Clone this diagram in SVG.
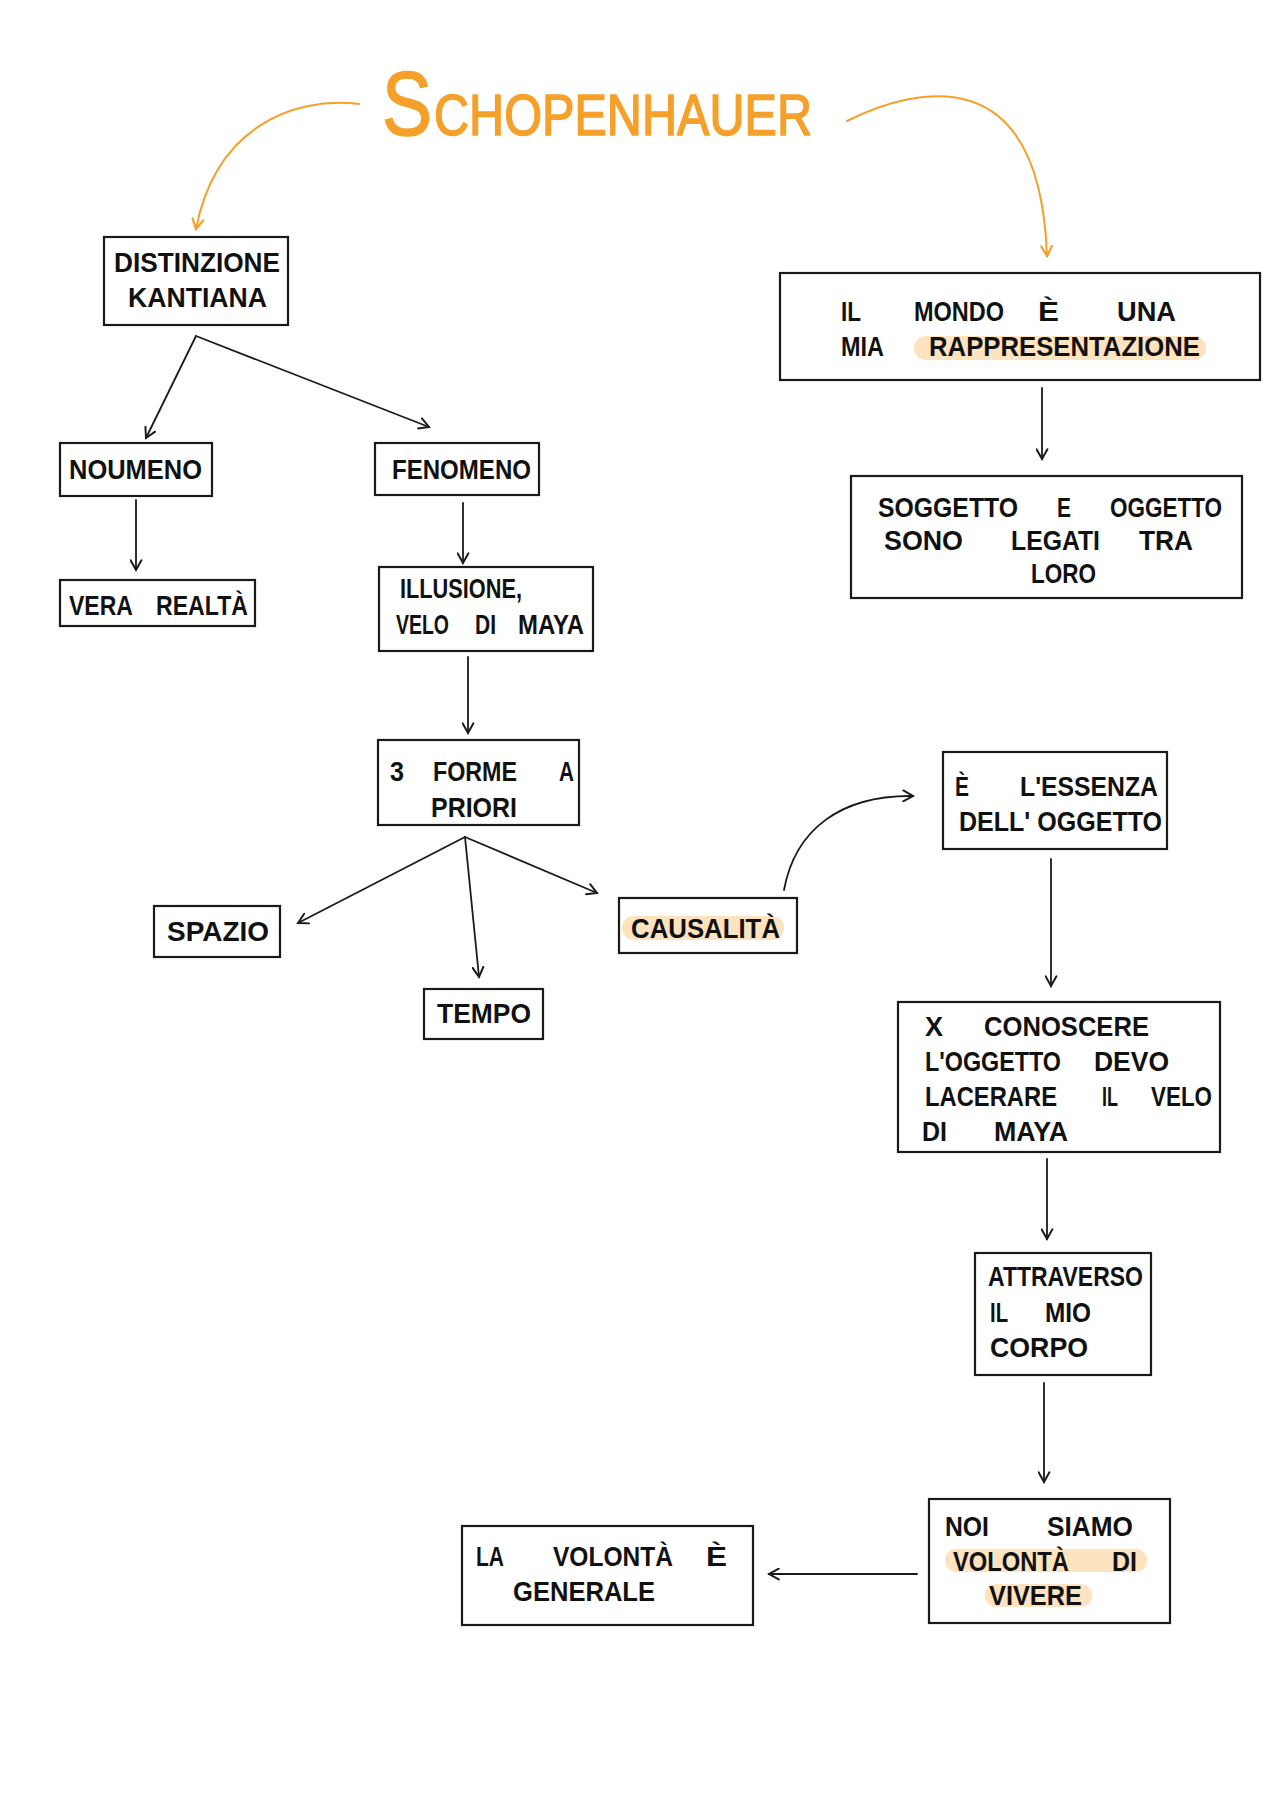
<svg xmlns="http://www.w3.org/2000/svg" width="1280" height="1808" viewBox="0 0 1280 1808">
<style>
.box{fill:#fff;stroke:#1a1a1a;stroke-width:2.2}
.t{font-family:"Liberation Sans Narrow","Liberation Sans",Arial,sans-serif;font-weight:bold;font-size:28px;fill:#111}
.hl{fill:#FDE3C0}
.c{fill:none;stroke:#1a1a1a;stroke-width:1.8;stroke-linecap:round}
.o{fill:none;stroke:#F5A02A;stroke-width:2;stroke-linecap:round}
.title{font-family:"Liberation Sans",Arial,sans-serif;fill:#F5A02A;stroke:#F5A02A;stroke-width:1.6;stroke-linejoin:round}
</style>
<defs>
<marker id="ah" viewBox="0 0 12 12" refX="10" refY="6" markerWidth="13" markerHeight="13" markerUnits="userSpaceOnUse" orient="auto">
<path d="M1,1 L10,6 L1,11" fill="none" stroke="#1a1a1a" stroke-width="1.8" stroke-linecap="round"/>
</marker>
<marker id="aho" viewBox="0 0 12 12" refX="10" refY="6" markerWidth="13" markerHeight="13" markerUnits="userSpaceOnUse" orient="auto">
<path d="M1,1 L10,6 L1,11" fill="none" stroke="#F5A02A" stroke-width="2" stroke-linecap="round"/>
</marker>
</defs>
<rect width="1280" height="1808" fill="#fff"/>

<g id="title">
<text class="title" x="382" y="135" font-size="90" textLength="50" lengthAdjust="spacingAndGlyphs">S</text>
<text class="title" x="434" y="135" font-size="58" textLength="378" lengthAdjust="spacingAndGlyphs">CHOPENHAUER</text>
</g>

<g id="connectors">
<path class="o" d="M359 104 C290 96 215 130 196 229" marker-end="url(#aho)"/>
<path class="o" d="M847 121 C920 85 1040 60 1047 256" marker-end="url(#aho)"/>
<path class="c" d="M196 336 L146 438" marker-end="url(#ah)"/>
<path class="c" d="M196 336 L429 427" marker-end="url(#ah)"/>
<path class="c" d="M136 500 L136 570" marker-end="url(#ah)"/>
<path class="c" d="M463 503 L463 563" marker-end="url(#ah)"/>
<path class="c" d="M468 657 L468 733" marker-end="url(#ah)"/>
<path class="c" d="M465 837 L298 923" marker-end="url(#ah)"/>
<path class="c" d="M465 837 L479 977" marker-end="url(#ah)"/>
<path class="c" d="M465 837 L597 893" marker-end="url(#ah)"/>
<path class="c" d="M784 890 C795 830 840 795 913 796" marker-end="url(#ah)"/>
<path class="c" d="M1042 388 L1042 459" marker-end="url(#ah)"/>
<path class="c" d="M1051 859 L1051 986" marker-end="url(#ah)"/>
<path class="c" d="M1047 1159 L1047 1239" marker-end="url(#ah)"/>
<path class="c" d="M1044 1383 L1044 1482" marker-end="url(#ah)"/>
<path class="c" d="M917 1574 L769 1574" stroke-width="2.4" marker-end="url(#ah)"/>
</g>

<g id="distinzione">
<rect class="box" x="104" y="237" width="184" height="88"/>
<text class="t" x="114" y="272" textLength="166" lengthAdjust="spacingAndGlyphs">DISTINZIONE</text>
<text class="t" x="128" y="307" textLength="139" lengthAdjust="spacingAndGlyphs">KANTIANA</text>
</g>

<g id="noumeno">
<rect class="box" x="60" y="443" width="152" height="53"/>
<text class="t" x="69" y="479" textLength="133" lengthAdjust="spacingAndGlyphs">NOUMENO</text>
</g>

<g id="fenomeno">
<rect class="box" x="375" y="443" width="164" height="52"/>
<text class="t" x="392" y="479" textLength="139" lengthAdjust="spacingAndGlyphs">FENOMENO</text>
</g>

<g id="vera">
<rect class="box" x="60" y="580" width="195" height="46"/>
<text class="t" x="69" y="615" textLength="64" lengthAdjust="spacingAndGlyphs">VERA</text>
<text class="t" x="156" y="615" textLength="92" lengthAdjust="spacingAndGlyphs">REALTÀ</text>
</g>

<g id="illusione">
<rect class="box" x="379" y="567" width="214" height="84"/>
<text class="t" x="400" y="598" textLength="122" lengthAdjust="spacingAndGlyphs">ILLUSIONE,</text>
<text class="t" x="396" y="634" textLength="53" lengthAdjust="spacingAndGlyphs">VELO</text>
<text class="t" x="475" y="634" textLength="21" lengthAdjust="spacingAndGlyphs">DI</text>
<text class="t" x="518" y="634" textLength="66" lengthAdjust="spacingAndGlyphs">MAYA</text>
</g>

<g id="forme">
<rect class="box" x="378" y="740" width="201" height="85"/>
<text class="t" x="390" y="781" textLength="14" lengthAdjust="spacingAndGlyphs">3</text>
<text class="t" x="433" y="781" textLength="84" lengthAdjust="spacingAndGlyphs">FORME</text>
<text class="t" x="559" y="781" textLength="15" lengthAdjust="spacingAndGlyphs">A</text>
<text class="t" x="431" y="817" textLength="86" lengthAdjust="spacingAndGlyphs">PRIORI</text>
</g>

<g id="spazio">
<rect class="box" x="154" y="906" width="126" height="51"/>
<text class="t" x="167" y="941" textLength="102" lengthAdjust="spacingAndGlyphs">SPAZIO</text>
</g>

<g id="tempo">
<rect class="box" x="424" y="989" width="119" height="50"/>
<text class="t" x="437" y="1023" textLength="94" lengthAdjust="spacingAndGlyphs">TEMPO</text>
</g>

<g id="causalita">
<rect class="box" x="619" y="898" width="178" height="55"/>
<rect class="hl" x="622" y="916" width="162" height="24" rx="12"/>
<text class="t" x="631" y="938" textLength="149" lengthAdjust="spacingAndGlyphs">CAUSALITÀ</text>
</g>

<g id="mondo">
<rect class="box" x="780" y="273" width="480" height="107"/>
<text class="t" x="841" y="321" textLength="20" lengthAdjust="spacingAndGlyphs">IL</text>
<text class="t" x="914" y="321" textLength="90" lengthAdjust="spacingAndGlyphs">MONDO</text>
<text class="t" x="1038" y="321" textLength="21" lengthAdjust="spacingAndGlyphs">È</text>
<text class="t" x="1117" y="321" textLength="59" lengthAdjust="spacingAndGlyphs">UNA</text>
<rect class="hl" x="914" y="336" width="292" height="24" rx="12"/>
<text class="t" x="841" y="356" textLength="43" lengthAdjust="spacingAndGlyphs">MIA</text>
<text class="t" x="929" y="356" textLength="271" lengthAdjust="spacingAndGlyphs">RAPPRESENTAZIONE</text>
</g>

<g id="soggetto">
<rect class="box" x="851" y="476" width="391" height="122"/>
<text class="t" x="878" y="517" textLength="140" lengthAdjust="spacingAndGlyphs">SOGGETTO</text>
<text class="t" x="1057" y="517" textLength="14" lengthAdjust="spacingAndGlyphs">E</text>
<text class="t" x="1110" y="517" textLength="112" lengthAdjust="spacingAndGlyphs">OGGETTO</text>
<text class="t" x="884" y="550" textLength="79" lengthAdjust="spacingAndGlyphs">SONO</text>
<text class="t" x="1011" y="550" textLength="89" lengthAdjust="spacingAndGlyphs">LEGATI</text>
<text class="t" x="1139" y="550" textLength="54" lengthAdjust="spacingAndGlyphs">TRA</text>
<text class="t" x="1031" y="583" textLength="65" lengthAdjust="spacingAndGlyphs">LORO</text>
</g>

<g id="essenza">
<rect class="box" x="943" y="752" width="224" height="97"/>
<text class="t" x="955" y="796" textLength="14" lengthAdjust="spacingAndGlyphs">È</text>
<text class="t" x="1020" y="796" textLength="138" lengthAdjust="spacingAndGlyphs">L'ESSENZA</text>
<text class="t" x="959" y="831" textLength="203" lengthAdjust="spacingAndGlyphs">DELL' OGGETTO</text>
</g>

<g id="conoscere">
<rect class="box" x="898" y="1002" width="322" height="150"/>
<text class="t" x="925" y="1036" textLength="18" lengthAdjust="spacingAndGlyphs">X</text>
<text class="t" x="984" y="1036" textLength="165" lengthAdjust="spacingAndGlyphs">CONOSCERE</text>
<text class="t" x="925" y="1071" textLength="136" lengthAdjust="spacingAndGlyphs">L'OGGETTO</text>
<text class="t" x="1094" y="1071" textLength="75" lengthAdjust="spacingAndGlyphs">DEVO</text>
<text class="t" x="925" y="1106" textLength="132" lengthAdjust="spacingAndGlyphs">LACERARE</text>
<text class="t" x="1102" y="1106" textLength="16" lengthAdjust="spacingAndGlyphs">IL</text>
<text class="t" x="1151" y="1106" textLength="61" lengthAdjust="spacingAndGlyphs">VELO</text>
<text class="t" x="922" y="1141" textLength="25" lengthAdjust="spacingAndGlyphs">DI</text>
<text class="t" x="994" y="1141" textLength="74" lengthAdjust="spacingAndGlyphs">MAYA</text>
</g>

<g id="attraverso">
<rect class="box" x="975" y="1253" width="176" height="122"/>
<text class="t" x="988" y="1286" textLength="155" lengthAdjust="spacingAndGlyphs">ATTRAVERSO</text>
<text class="t" x="990" y="1322" textLength="18" lengthAdjust="spacingAndGlyphs">IL</text>
<text class="t" x="1045" y="1322" textLength="46" lengthAdjust="spacingAndGlyphs">MIO</text>
<text class="t" x="990" y="1357" textLength="98" lengthAdjust="spacingAndGlyphs">CORPO</text>
</g>

<g id="noi">
<rect class="box" x="929" y="1499" width="241" height="124"/>
<rect class="hl" x="945" y="1549" width="202" height="23" rx="11"/>
<rect class="hl" x="985" y="1584" width="107" height="23" rx="11"/>
<text class="t" x="945" y="1536" textLength="44" lengthAdjust="spacingAndGlyphs">NOI</text>
<text class="t" x="1047" y="1536" textLength="86" lengthAdjust="spacingAndGlyphs">SIAMO</text>
<text class="t" x="953" y="1571" textLength="116" lengthAdjust="spacingAndGlyphs">VOLONTÀ</text>
<text class="t" x="1112" y="1571" textLength="25" lengthAdjust="spacingAndGlyphs">DI</text>
<text class="t" x="989" y="1605" textLength="93" lengthAdjust="spacingAndGlyphs">VIVERE</text>
</g>

<g id="volonta">
<rect class="box" x="462" y="1526" width="291" height="99"/>
<text class="t" x="476" y="1566" textLength="28" lengthAdjust="spacingAndGlyphs">LA</text>
<text class="t" x="553" y="1566" textLength="120" lengthAdjust="spacingAndGlyphs">VOLONTÀ</text>
<text class="t" x="706" y="1566" textLength="21" lengthAdjust="spacingAndGlyphs">È</text>
<text class="t" x="513" y="1601" textLength="142" lengthAdjust="spacingAndGlyphs">GENERALE</text>
</g>
</svg>
